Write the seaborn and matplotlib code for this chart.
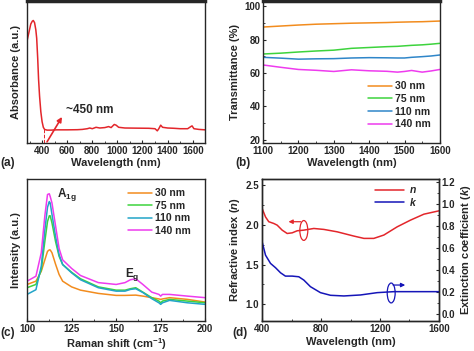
import numpy as np
import pandas as pd
import seaborn as sns
import matplotlib.pyplot as plt
from matplotlib.patches import Ellipse
from matplotlib.ticker import MultipleLocator

# --- (a) absorbance ---
abs_wl = [280, 295, 310, 322, 330, 340, 350, 357, 365, 372, 380, 390, 400, 410,
          420, 440, 470, 520, 600, 680, 720, 760, 780, 800, 830, 860, 900, 930,
          950, 975, 990, 1010, 1060, 1150, 1250, 1300, 1318, 1330, 1345, 1360,
          1400, 1450, 1500, 1560, 1585, 1595, 1610, 1650, 1700]
abs_val = [0.72, 0.78, 0.84, 0.86, 0.865, 0.85, 0.80, 0.74, 0.60, 0.45, 0.33,
           0.22, 0.15, 0.11, 0.095, 0.09, 0.09, 0.092, 0.092, 0.093, 0.095,
           0.10, 0.105, 0.10, 0.11, 0.105, 0.108, 0.115, 0.108, 0.13, 0.125,
           0.11, 0.105, 0.104, 0.103, 0.10, 0.085, 0.10, 0.125, 0.11, 0.105,
           0.103, 0.10, 0.10, 0.115, 0.12, 0.10, 0.095, 0.092]

# --- (b) transmittance ---
trans_wl = [1100, 1150, 1200, 1250, 1300, 1350, 1400, 1450, 1480, 1500, 1520,
            1550, 1575, 1600]
trans_30 = [87.6, 88.2, 88.8, 89.3, 89.6, 89.9, 90.1, 90.3, 90.5, 90.6, 90.7,
            90.8, 91.0, 91.2]
trans_75 = [71.4, 71.9, 72.6, 73.2, 73.7, 74.8, 75.3, 75.8, 76.0, 76.3, 76.6,
            76.9, 77.3, 77.8]
trans_110 = [69.4, 68.9, 68.3, 68.5, 68.6, 69.0, 69.2, 69.1, 69.0, 69.0, 69.4,
             69.8, 70.2, 70.8]
trans_140 = [64.8, 63.4, 62.1, 61.6, 60.9, 61.9, 61.3, 61.0, 60.5, 60.9, 61.5,
             60.5, 61.2, 62.1]
thickness = ["30 nm", "75 nm", "110 nm", "140 nm"]

# --- (c) Raman ---
raman_x = [100, 105, 108, 110, 111.5, 112.5, 113, 114, 116, 118, 120, 125, 130,
           140, 150, 155, 158, 161, 165, 170, 174, 175, 176, 180, 190, 200]
raman_30 = [0.257, 0.28, 0.35, 0.43, 0.49, 0.50, 0.50, 0.48, 0.40, 0.327,
            0.28, 0.24, 0.217, 0.194, 0.18, 0.18, 0.181, 0.182, 0.175, 0.164,
            0.155, 0.152, 0.155, 0.164, 0.152, 0.133]
raman_75 = [0.234, 0.257, 0.36, 0.56, 0.70, 0.74, 0.74, 0.69, 0.56, 0.455,
            0.397, 0.343, 0.297, 0.24, 0.217, 0.217, 0.227, 0.234, 0.203,
            0.164, 0.14, 0.128, 0.14, 0.152, 0.14, 0.128]
raman_110 = [0.187, 0.22, 0.385, 0.64, 0.80, 0.84, 0.83, 0.75, 0.596, 0.467,
             0.397, 0.339, 0.29, 0.234, 0.21, 0.21, 0.222, 0.227, 0.20, 0.157,
             0.128, 0.117, 0.128, 0.145, 0.128, 0.117]
raman_140 = [0.28, 0.315, 0.48, 0.74, 0.89, 0.895, 0.876, 0.83, 0.67, 0.51,
             0.43, 0.37, 0.32, 0.27, 0.257, 0.27, 0.29, 0.297, 0.257, 0.203,
             0.187, 0.175, 0.187, 0.187, 0.175, 0.164]

# --- (d) optical constants ---
n_wl = [400, 423, 445, 479, 502, 536, 570, 604, 638, 683, 751, 819, 909, 1023,
        1091, 1158, 1226, 1317, 1407, 1498, 1600]
n_val = [2.207, 2.10, 2.04, 2.018, 1.997, 1.934, 1.892, 1.90, 1.926, 1.934,
         1.955, 1.943, 1.913, 1.859, 1.83, 1.83, 1.872, 1.976, 2.06, 2.135,
         2.177]
k_wl = [400, 423, 457, 491, 525, 558, 604, 649, 683, 728, 796, 864, 955, 1068,
        1181, 1294, 1407, 1600]
k_val = [0.654, 0.533, 0.458, 0.419, 0.373, 0.343, 0.343, 0.337, 0.307, 0.247,
         0.193, 0.169, 0.163, 0.172, 0.193, 0.202, 0.202, 0.202]

colors = ["#F28C1E", "#3DD33D", "#2F86C9", "#EE3BEE"]
raman_colors = ["#F28C1E", "#3DD33D", "#22A4C8", "#EE3BEE"]
red = "#E3262B"
blue = "#1515B8"

sns.set_style("ticks")
plt.rcParams["font.family"] = ["Liberation Sans", "DejaVu Sans"]
plt.rcParams["font.weight"] = "bold"
plt.rcParams["axes.labelweight"] = "bold"
plt.rcParams["mathtext.fontset"] = "custom"
plt.rcParams["mathtext.rm"] = "Liberation Sans:bold"
plt.rcParams["mathtext.it"] = "Liberation Sans:italic:bold"
plt.rcParams["mathtext.bf"] = "Liberation Sans:bold"
plt.rcParams["xtick.direction"] = "in"
plt.rcParams["ytick.direction"] = "in"
plt.rcParams["xtick.labelsize"] = 7
plt.rcParams["ytick.labelsize"] = 7
plt.rcParams["axes.labelsize"] = 8
plt.rcParams["axes.linewidth"] = 1.0
plt.rcParams["xtick.major.size"] = 2.5
plt.rcParams["ytick.major.size"] = 2.5
plt.rcParams["xtick.minor.size"] = 1.5
plt.rcParams["ytick.minor.size"] = 1.5
plt.rcParams["xtick.major.pad"] = 2
plt.rcParams["ytick.major.pad"] = 2

fig = plt.figure(figsize=(4.74, 3.51), dpi=100)
ax_a = fig.add_axes([0.057, 0.593, 0.376, 0.403])
ax_b = fig.add_axes([0.555, 0.593, 0.373, 0.403])
ax_c = fig.add_axes([0.057, 0.0855, 0.376, 0.405])
ax_d = fig.add_axes([0.553, 0.0855, 0.373, 0.405])
lw = 1.1

# (a)
sns.lineplot(x=abs_wl, y=abs_val, ax=ax_a, color=red, lw=lw)
ax_a.set_xlim(280, 1700)
ax_a.set_ylim(0, 1)
ax_a.set_yticks([])
ax_a.xaxis.set_major_locator(MultipleLocator(200))
ax_a.xaxis.set_minor_locator(MultipleLocator(100))
ax_a.set_xticks(range(400, 1700, 200))
ax_a.set_xlabel("Wavelength (nm)", labelpad=2)
ax_a.set_ylabel("Absorbance (a.u.)", labelpad=4)
ax_a.plot([415, 415], [0, 0.1], ls="--", color=red, lw=0.7)
ax_a.annotate("", xy=(570, 0.2), xytext=(428, -0.01),
              arrowprops=dict(arrowstyle="-|>", color=red, lw=1.2,
                              mutation_scale=7), annotation_clip=False)
ax_a.text(590, 0.23, "~450 nm", fontsize=8.5, fontweight="bold",
          ha="left", va="center")
ax_a.spines["top"].set_linewidth(2.5)

# (b)
df_b = pd.DataFrame({"wl": trans_wl * 4,
                     "T": trans_30 + trans_75 + trans_110 + trans_140,
                     "film": np.repeat(thickness, len(trans_wl))})
sns.lineplot(data=df_b, x="wl", y="T", hue="film", palette=colors,
             hue_order=thickness, ax=ax_b, lw=lw)
ax_b.set_xlim(1100, 1600)
ax_b.set_ylim(18, 103)
ax_b.set_yticks([20, 40, 60, 80, 100])
ax_b.yaxis.set_minor_locator(MultipleLocator(10))
ax_b.xaxis.set_minor_locator(MultipleLocator(50))
ax_b.set_xlabel("Wavelength (nm)", labelpad=2)
ax_b.set_ylabel("Transmittance (%)", labelpad=3)
ax_b.legend(loc="lower right", bbox_to_anchor=(1.0, 0.03), frameon=False,
            fontsize=7.5, handlelength=2.3, labelspacing=0.25,
            handletextpad=0.3)
ax_b.spines["top"].set_linewidth(2.5)

# (c)
df_c = pd.DataFrame({"shift": raman_x * 4,
                     "I": raman_30 + raman_75 + raman_110 + raman_140,
                     "film": np.repeat(thickness, len(raman_x))})
sns.lineplot(data=df_c, x="shift", y="I", hue="film", palette=raman_colors,
             hue_order=thickness, ax=ax_c, lw=lw)
ax_c.set_xlim(100, 200)
ax_c.set_ylim(0, 1)
ax_c.set_yticks([])
ax_c.set_xticks([100, 125, 150, 175, 200])
ax_c.xaxis.set_minor_locator(MultipleLocator(12.5))
ax_c.set_xlabel("Raman shift (cm$^{\\mathrm{-1}}$)", labelpad=2)
ax_c.set_ylabel("Intensity (a.u.)", labelpad=4)
ax_c.text(117, 0.89, "A$_{\\mathrm{1g}}$", fontsize=8.5, ha="left", va="center")
ax_c.text(155, 0.33, "E$_{\\mathrm{g}}$", fontsize=8.5, ha="left", va="center")
ax_c.legend(loc="upper right", bbox_to_anchor=(0.97, 1.0), frameon=False,
            fontsize=7.5, handlelength=2.3, labelspacing=0.25,
            handletextpad=0.3)

# (d)
ax_k = ax_d.twinx()
sns.lineplot(x=n_wl, y=n_val, ax=ax_d, color=red, lw=lw, label="$\\mathit{n}$",
             legend=False)
sns.lineplot(x=k_wl, y=k_val, ax=ax_k, color=blue, lw=lw, label="$\\mathit{k}$",
             legend=False)
ax_d.set_xlim(400, 1600)
ax_d.set_ylim(0.79, 2.58)
ax_d.set_xticks([400, 800, 1200, 1600])
ax_d.xaxis.set_minor_locator(MultipleLocator(200))
ax_d.set_yticks([1.0, 1.5, 2.0, 2.5])
ax_d.yaxis.set_minor_locator(MultipleLocator(0.25))
ax_k.set_ylim(-0.064, 1.225)
ax_k.set_yticks([0.0, 0.2, 0.4, 0.6, 0.8, 1.0, 1.2])
ax_k.yaxis.set_minor_locator(MultipleLocator(0.1))
ax_k.tick_params(axis="y", direction="in", labelsize=7)
ax_d.set_xlabel("Wavelength (nm)", labelpad=2)
ax_d.set_ylabel("Refractive index ($\\mathit{n}$)", labelpad=3)
ax_k.set_ylabel("Extinction coefficient ($\\mathit{k}$)", labelpad=3)
ax_d.add_patch(Ellipse((683, 1.93), 54, 0.25, fill=False, ec=red, lw=0.9))
ax_d.annotate("", xy=(560, 2.04), xytext=(680, 2.04),
              arrowprops=dict(arrowstyle="-|>", color=red, lw=0.9,
                              mutation_scale=6))
ax_k.add_patch(Ellipse((1276, 0.19), 54, 0.18, fill=False, ec=blue, lw=0.9))
ax_k.annotate("", xy=(1390, 0.262), xytext=(1270, 0.262),
              arrowprops=dict(arrowstyle="-|>", color=blue, lw=0.9,
                              mutation_scale=6))
handles = ax_d.get_lines()[:1] + ax_k.get_lines()[:1]
ax_d.legend(handles, ["$\\mathit{n}$", "$\\mathit{k}$"], loc="upper right",
            bbox_to_anchor=(0.93, 1.02), frameon=False, fontsize=7.5,
            handlelength=2.8, labelspacing=0.05, handletextpad=0.5)

# panel labels
for lab, x, y in [("(a)", 0.0, 0.535), ("(b)", 0.497, 0.535),
                  ("(c)", 0.0, 0.05), ("(d)", 0.49, 0.05)]:
    fig.text(x, y, lab, fontsize=8.5, fontweight="bold", ha="left", va="center")

fig.savefig("out.png", dpi=100)
